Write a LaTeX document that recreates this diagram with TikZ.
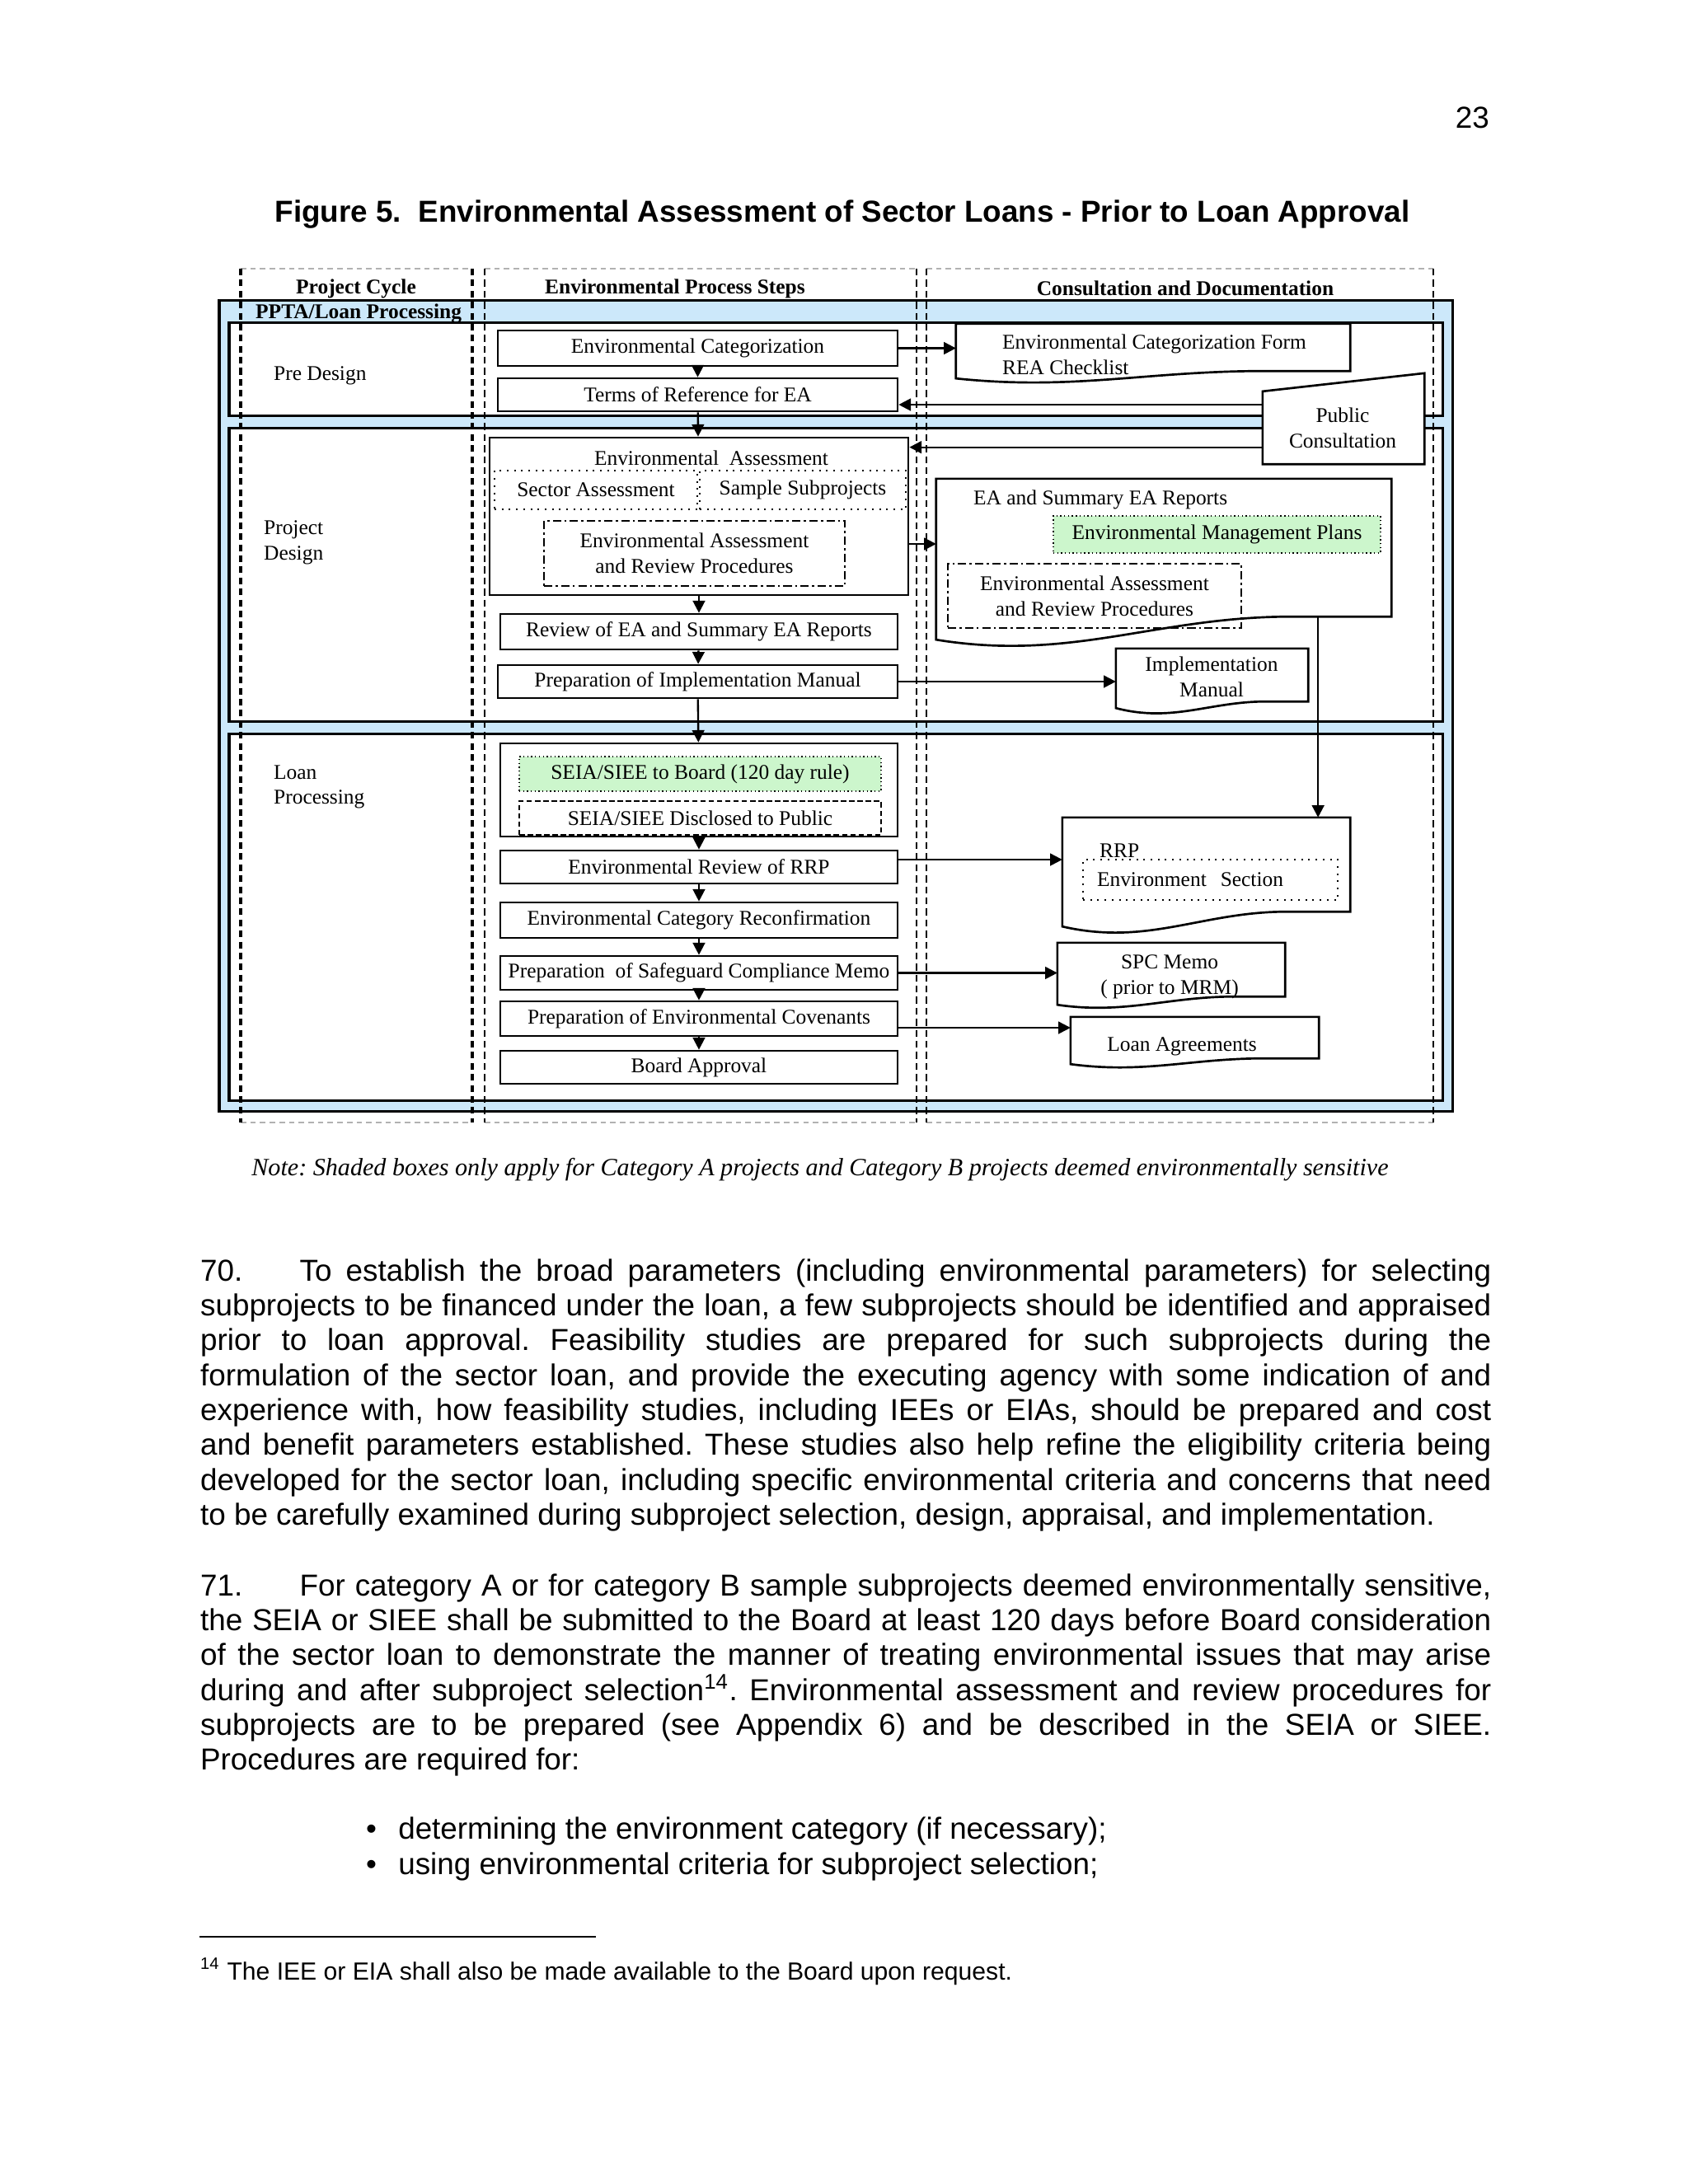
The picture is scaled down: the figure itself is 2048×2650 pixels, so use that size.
\documentclass[tikz,border=0pt]{standalone}
\usepackage{fontspec}
\setmainfont{Liberation Serif}
\newfontfamily\arialfont{Liberation Sans}
\usepackage{xcolor}
\definecolor{colorBand}{RGB}{204,232,250}
\definecolor{colorShaded}{RGB}{204,246,204}
\colorlet{colorLane}{black!30}
\usepackage{tikz}
\usetikzlibrary{arrows.meta, positioning, calc}
\newdimen\pxu \pxu=0.29883pt
\frenchspacing
\tikzset{
  sz/.style 2 args={minimum width=#1*\pxu, minimum height=#2*\pxu},
  stepbox/.style={draw, line width=0.8pt, fill=white, inner sep=0pt},
  band/.style={draw, line width=0.9pt, fill=white, inner sep=0pt},
  frame/.style={inner sep=0pt},
  docline/.style={draw, line width=0.8pt, fill=white},
  dotbox/.style={draw, line width=0.6pt, dotted, inner sep=0pt},
  dashbox/.style={draw, line width=0.6pt, dash pattern=on 2pt off 1pt, inner sep=0pt},
  dashdotbox/.style={draw, line width=0.7pt, dash pattern=on 3pt off 1.2pt on 0.8pt off 1.2pt, inner sep=0pt},
  shadedbox/.style={draw, line width=0.4pt, densely dotted, fill=colorShaded, inner sep=0pt},
  lbl/.style={inner sep=0pt},
  head/.style={inner sep=0pt, font=\fontsize{7.6}{9.2}\selectfont\bfseries},
  lanerule/.style={colorLane, line width=0.4pt, dash pattern=on 2pt off 1.5pt},
  laneheavy/.style={line width=0.9pt, dash pattern=on 2.4pt off 1.6pt},
  lanethin/.style={line width=0.35pt, dash pattern=on 2.5pt off 1.5pt},
  pagetext/.style={inner sep=0pt, font=\arialfont\fontsize{11}{12.65}\selectfont},
  bodytext/.style={pagetext, text width=468pt, align=justify},
}
% document shape: node, width, left drop, dip (px)
\newcommand\docshape[4]{%
  \draw[docline] (#1.south east) -- (#1.north east) -- (#1.north west)
    -- ($(#1.south west)+(0,#3)$)
    .. controls +(0.3*#2,3*#4) and +(-0.3*#2,0) .. ($(#1.south east)+(-0.22*#2,0)$) -- cycle;}

\begin{document}
\begin{tikzpicture}[x=0.29883pt, y=-0.29883pt, line width=0.7pt,
  >={Triangle[length=4.4pt,width=4.4pt]}, font=\fontsize{7.6}{9.2}\selectfont]
\useasboundingbox (0,0) rectangle (2048,2650);

% page head
\node[pagetext, anchor=base east] (pageno) at (1808,155) {23};
\node[pagetext, anchor=base, font=\arialfont\bfseries\fontsize{11}{13}\selectfont] (title) at (1022,269)
  {Figure 5.~ Environmental Assessment of Sector Loans - Prior to Loan Approval};

% bands
\node[draw, line width=0.9pt, fill=colorBand, sz={1496}{984}] (ppta) at (1014,856) {};
\node[band, sz={1472}{113}] (predesign) at (1014,447.5) {};
\node[band, sz={1472}{356}] (projdesign) at (1014,697) {};
\node[band, sz={1472}{445}] (loanproc) at (1014,1112.5) {};

% lanes
\draw[lanerule] (292,326) -- (573,326) (588,326) -- (1112,326) (1124,326) -- (1739,326);
\draw[lanerule] (292,1362) -- (573,1362) (588,1362) -- (1112,1362) (1124,1362) -- (1739,1362);
\draw[laneheavy] (292,326) -- (292,1362) (573,326) -- (573,1362);
\draw[lanethin] (588,326) -- (588,1362) (1112,326) -- (1112,1362) (1124,326) -- (1124,1362) (1739,326) -- (1739,1362);

\node[head] (hcycle) at (432,350) {Project Cycle};
\node[head] (hsteps) at (819,350) {Environmental Process Steps};
\node[head] (hcons) at (1438,350) {Consultation and Documentation};
\node[head, anchor=west] (hppta) at (309,380) {PPTA/Loan Processing};

\node[lbl, anchor=west] (lpre) at (331,456) {Pre Design};
\node[lbl, anchor=west, align=left] (lproj) at (319,658) {Project\\Design};
\node[lbl, anchor=west, align=left] (lloan) at (331,955) {Loan\\Processing};

% process steps
\node[stepbox, sz={485}{43}] (cat) at (846.5,422.5) {Environmental Categorization};
\node[stepbox, sz={485}{40}] (tor) at (846.5,479) {Terms of Reference for EA};
\node[stepbox, sz={508}{191}] (ea) at (848,626.5) {};
\node[lbl] (eatitle) at (863,556) {Environmental~ Assessment};
\node[dotbox, sz={246}{47}] (sector) at (723,594.5) {Sector Assessment};
\node[dotbox, sz={250}{47}] (sample) at (974,594.5) {Sample Subprojects};
\node[dashdotbox, sz={365}{79}, align=center] (eapr) at (842.5,671.5) {Environmental Assessment\\and Review Procedures};
\node[stepbox, sz={482}{43}] (review) at (848,766.5) {Review of EA and Summary EA Reports};
\node[stepbox, sz={485}{40}] (prepim) at (846.5,827) {Preparation of Implementation Manual};
\node[stepbox, sz={482}{113}] (seia) at (848,958.5) {};
\node[shadedbox, sz={439}{42}] (brd120) at (849.5,939) {SEIA/SIEE to Board (120 day rule)};
\node[dashbox, sz={439}{41}] (discl) at (849.5,992.5) {SEIA/SIEE Disclosed to Public};
\node[stepbox, sz={482}{40}] (envrev) at (848,1052) {Environmental Review of RRP};
\node[stepbox, sz={482}{43}] (reconf) at (848,1116.5) {Environmental Category Reconfirmation};
\node[stepbox, sz={482}{41}] (spcm) at (848,1180.5) {Preparation~ of Safeguard Compliance Memo};
\node[stepbox, sz={482}{42}] (coven) at (848,1236) {Preparation of Environmental Covenants};
\node[stepbox, sz={482}{40}] (board) at (848,1295) {Board Approval};

% consultation and documentation
\node[frame, sz={476}{55}] (ecform) at (1399,421.5) {};
\docshape{ecform}{476}{9}{5}
\node[lbl, anchor=west, align=left] (ecformtxt) at (1215,430) {Environmental Categorization Form\\REA Checklist};
\node[frame, sz={194}{108}] (pubcons) at (1630,508) {};
\draw[docline] (pubcons.south west) -- ($(pubcons.north west)+(0,22)$) -- (pubcons.north east) -- (pubcons.south east) -- cycle;
\node[lbl, align=center] (pubconstxt) at (1629,519.5) {Public\\Consultation};
\node[frame, sz={550}{165}] (eareports) at (1412,664.5) {};
\docshape{eareports}{550}{28}{9}
\node[lbl, anchor=west] (eareptxt) at (1180,606) {EA and Summary EA Reports};
\node[shadedbox, sz={397}{45}] (emp) at (1476.5,648.5) {Environmental Management Plans};
\node[dashdotbox, sz={356}{78}, align=center] (eapr2) at (1328,723) {Environmental Assessment\\and Review Procedures};
\node[frame, sz={231}{62}] (implman) at (1470.5,819) {};
\docshape{implman}{231}{8}{6}
\node[lbl, align=center] (implmantxt) at (1470,821.5) {Implementation\\Manual};
\node[frame, sz={347}{112}] (rrp) at (1463.5,1049) {};
\docshape{rrp}{347}{18}{8}
\node[lbl, anchor=west] (rrptxt) at (1333,1032) {RRP};
\node[dotbox, anchor=west, text width=275*\pxu, inner xsep=17*\pxu, minimum height=49*\pxu, align=left] (envsec) at (1313,1067.5) {Environment~ Section};
\node[frame, sz={274}{63}] (spc) at (1421,1176.5) {};
\docshape{spc}{274}{10}{4}
\node[lbl, align=center] (spctxt) at (1419,1185) {SPC Memo\\( prior to MRM)};
\node[frame, sz={299}{48}] (loanag) at (1449.5,1259) {};
\docshape{loanag}{299}{7}{4}
\node[lbl] (loanagtxt) at (1434,1270) {Loan Agreements};

% flow
\draw [->] (cat) edge (tor);
\draw [->] (tor) edge (ea);
\draw [->] (ea) edge (review);
\draw [->] (review) edge (prepim);
\draw [->] (prepim) edge (seia);
\draw [->] (seia) edge (envrev);
\draw [->] (envrev) edge (reconf);
\draw [->] (reconf) edge (spcm);
\draw [->] (spcm) edge (coven);
\draw [->] (coven) edge (board);

\draw [->] (cat.east) -- (cat.east -| ecform.west);
\coordinate (torin) at ($(tor.east)+(0,12)$);
\draw [->] (pubcons.west |- torin) -- (torin);
\coordinate (eain) at ($(ea.north east)+(0,13)$);
\draw [->] (pubcons.west |- eain) -- (eain);
\coordinate (eaout) at ($(ea.east)+(0,33.5)$);
\draw [->] (eaout) -- (eaout -| eareports.west);
\draw [->] (prepim.east) -- (prepim.east -| implman.west);
\coordinate (rrpin) at ($(rrp.north east)+(-39,0)$);
\draw [->] (rrpin |- eareports.south) -- (rrpin);
\coordinate (envrevout) at ($(envrev.east)+(0,-9)$);
\draw [->] (envrevout) -- (envrevout -| rrp.west);
\draw [->] (spcm.east) -- (spcm.east -| spc.west);
\coordinate (covenout) at ($(coven.east)+(0,11)$);
\draw [->] (covenout) -- (covenout -| loanag.west);

% note and text
\node[lbl, anchor=base, font=\itshape\fontsize{9}{11}\selectfont] (note) at (995,1426)
  {Note: Shaded boxes only apply for Category A projects and Category B projects deemed environmentally sensitive};

\node[bodytext, anchor=base west] (para70) at (242,1554) {\makebox[36pt][l]{70.}To establish the broad parameters (including environmental parameters) for selecting\linebreak
subprojects to be financed under the loan, a few subprojects should be identified and appraised\linebreak
prior to loan approval. Feasibility studies are prepared for such subprojects during the\linebreak
formulation of the sector loan, and provide the executing agency with some indication of and\linebreak
experience with, how feasibility studies, including IEEs or EIAs, should be prepared and cost\linebreak
and benefit parameters established. These studies also help refine the eligibility criteria being\linebreak
developed for the sector loan, including specific environmental criteria and concerns that need\linebreak
to be carefully examined during subproject selection, design, appraisal, and implementation.};

\node[bodytext, anchor=base west] (para71) at (242,1936) {\makebox[36pt][l]{71.}For category A or for category B sample subprojects deemed environmentally sensitive,\linebreak
the SEIA or SIEE shall be submitted to the Board at least 120 days before Board consideration\linebreak
of the sector loan to demonstrate the manner of treating environmental issues that may arise\linebreak
during and after subproject selection\textsuperscript{14}. Environmental assessment and review procedures for\linebreak
subprojects are to be prepared (see Appendix 6) and be described in the SEIA or SIEE.\linebreak
Procedures are required for:};

\node[pagetext, anchor=base west, align=left] (bullets) at (443,2274)
  {\makebox[11.7pt][l]{\textbullet}determining the environment category (if necessary);\\
   \makebox[11.7pt][l]{\textbullet}using environmental criteria for subproject selection;};

\draw[line width=0.6pt] (242,2350) -- (723,2350);
\node[pagetext, anchor=base west, font=\arialfont\fontsize{9}{10.5}\selectfont] (fn14) at (242,2402)
  {\textsuperscript{14} The IEE or EIA shall also be made available to the Board upon request.};
\end{tikzpicture}
\end{document}
